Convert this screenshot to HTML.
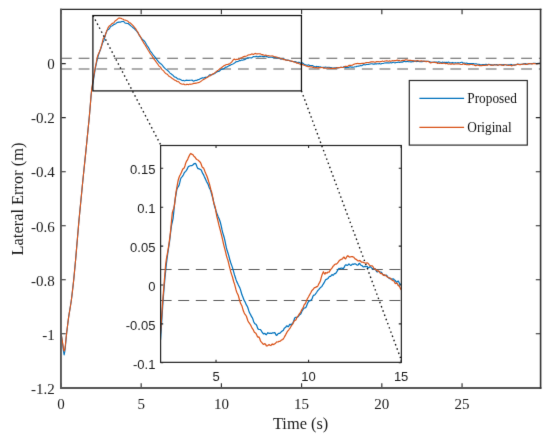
<!DOCTYPE html>
<html><head><meta charset="utf-8"><title>Lateral Error</title>
<style>html,body{margin:0;padding:0;background:#fff;}svg{display:block;}</style>
</head><body>
<svg width="550" height="436" viewBox="0 0 550 436"><defs><clipPath id="cm"><rect x="60.95" y="9.4" width="479.65000000000003" height="378.55"/></clipPath><clipPath id="ci"><rect x="160.6" y="145.5" width="240.75000000000003" height="216.85000000000002"/></clipPath><filter id="bl" x="0" y="0" width="550" height="436" filterUnits="userSpaceOnUse" color-interpolation-filters="sRGB"><feConvolveMatrix order="3" kernelMatrix="0.0064 0.0672 0.0064 0.0672 0.7056 0.0672 0.0064 0.0672 0.0064" divisor="1" edgeMode="duplicate" preserveAlpha="true"/></filter></defs><g filter="url(#bl)"><rect x="0" y="0" width="550" height="436" fill="#fff"/><line x1="60.95" y1="58.20" x2="540.6" y2="58.20" stroke="#5c5c5c" stroke-width="1.05" stroke-dasharray="10.8 6.9"/><line x1="60.95" y1="69.00" x2="540.6" y2="69.00" stroke="#5c5c5c" stroke-width="1.05" stroke-dasharray="10.8 6.9"/><g clip-path="url(#cm)" fill="none" stroke-width="1.15" stroke-linejoin="round"><path d="M61.20,333.90 L61.57,336.50 L62.21,341.00 L62.86,345.91 L63.50,351.16 L64.14,354.96 L64.78,351.64 L65.42,346.43 L66.06,339.03 L66.71,332.35 L67.35,327.22 L67.99,322.08 L68.63,317.18 L69.27,313.20 L69.92,309.22 L70.56,305.23 L71.20,301.25 L71.84,296.22 L72.48,290.72 L73.12,285.22 L73.77,279.21 L74.41,272.49 L75.05,265.77 L75.69,258.92 L76.33,251.37 L76.97,243.82 L77.62,236.27 L78.26,228.72 L78.90,221.17 L79.54,214.44 L80.18,207.86 L80.83,201.27 L81.47,194.69 L82.11,188.11 L82.75,181.53 L83.39,175.23 L84.03,169.02 L84.68,162.81 L85.32,156.60 L85.96,150.39 L86.60,143.98 L87.24,137.54 L87.89,131.15 L88.53,124.79 L89.17,118.34 L89.81,111.17 L90.45,103.31 L91.09,95.52 L91.74,89.46 L92.38,86.04 L93.02,82.73 L93.66,78.97 L94.30,74.86 L94.95,70.66 L95.59,67.23 L96.23,64.15 L96.87,61.13 L97.51,58.64 L98.15,56.17 L98.80,54.07 L99.44,52.24 L100.08,50.58 L100.72,48.96 L101.36,46.77 L102.01,44.60 L102.65,42.72 L103.29,41.67 L103.93,40.44 L104.57,38.04 L105.21,35.31 L105.86,33.55 L106.50,32.03 L107.14,30.45 L107.78,29.82 L108.42,29.42 L109.06,29.03 L109.71,28.07 L110.35,26.92 L110.99,26.31 L111.63,26.05 L112.27,25.76 L112.92,25.30 L113.56,24.68 L114.20,24.36 L114.84,24.14 L115.48,23.77 L116.12,23.38 L116.77,22.77 L117.41,22.41 L118.05,22.35 L118.69,22.18 L119.33,22.16 L119.98,22.17 L120.62,22.07 L121.26,21.82 L121.90,21.56 L122.54,21.45 L123.18,21.34 L123.83,21.65 L124.47,22.34 L125.11,22.98 L125.75,23.23 L126.39,23.22 L127.04,23.38 L127.68,23.49 L128.32,23.67 L128.96,24.26 L129.60,24.86 L130.24,25.24 L130.89,25.85 L131.53,26.40 L132.17,26.92 L132.81,27.55 L133.45,28.06 L134.10,28.45 L134.74,29.18 L135.38,29.91 L136.02,30.31 L136.66,31.03 L137.30,32.05 L137.95,32.93 L138.59,33.68 L139.23,35.02 L139.87,36.32 L140.51,37.03 L141.16,37.91 L141.80,38.63 L142.44,39.31 L143.08,40.01 L143.72,40.51 L144.36,41.20 L145.01,41.99 L145.65,43.05 L146.29,44.32 L146.93,45.40 L147.57,46.25 L148.21,47.09 L148.86,48.22 L149.50,49.48 L150.14,50.71 L150.78,51.64 L151.42,52.39 L152.07,53.23 L152.71,54.22 L153.35,55.20 L153.99,55.98 L154.63,56.68 L155.27,57.39 L155.92,58.24 L156.56,59.18 L157.20,60.13 L157.84,60.93 L158.48,61.74 L159.13,62.43 L159.77,62.95 L160.41,63.53 L161.05,64.03 L161.69,64.52 L162.33,65.21 L162.98,66.12 L163.62,67.02 L164.26,67.62 L164.90,68.28 L165.54,68.97 L166.19,69.35 L166.83,69.92 L167.47,70.53 L168.11,70.93 L168.75,71.51 L169.39,72.34 L170.04,73.10 L170.68,73.56 L171.32,74.06 L171.96,74.62 L172.60,74.94 L173.25,75.61 L173.89,76.44 L174.53,76.87 L175.17,77.13 L175.81,77.25 L176.45,77.69 L177.10,78.48 L177.74,78.91 L178.38,78.99 L179.02,79.06 L179.66,79.08 L180.30,79.42 L180.95,79.86 L181.59,80.22 L182.23,80.57 L182.87,80.47 L183.51,80.40 L184.16,80.75 L184.80,80.89 L185.44,80.46 L186.08,80.14 L186.72,80.36 L187.36,80.43 L188.01,80.28 L188.65,80.44 L189.29,80.41 L189.93,80.24 L190.57,80.23 L191.22,80.22 L191.86,80.12 L192.50,80.38 L193.14,80.96 L193.78,81.13 L194.42,80.77 L195.07,80.49 L195.71,80.40 L196.35,80.38 L196.99,80.18 L197.63,79.89 L198.28,79.63 L198.92,79.52 L199.56,79.29 L200.20,78.70 L200.84,78.44 L201.48,78.36 L202.13,77.88 L202.77,77.76 L203.41,78.08 L204.05,78.03 L204.69,77.50 L205.34,77.20 L205.98,77.41 L206.62,77.35 L207.26,76.95 L207.90,76.65 L208.54,76.13 L209.19,75.22 L209.83,74.81 L210.47,74.90 L211.11,74.83 L211.75,74.69 L212.39,74.59 L213.04,74.19 L213.68,73.87 L214.32,73.77 L214.96,73.37 L215.60,72.73 L216.25,72.29 L216.89,71.91 L217.53,71.60 L218.17,71.55 L218.81,71.47 L219.45,71.09 L220.10,70.38 L220.74,69.75 L221.38,69.36 L222.02,69.15 L222.66,69.09 L223.31,68.89 L223.95,68.66 L224.59,68.22 L225.23,67.43 L225.87,67.11 L226.51,67.14 L227.16,66.85 L227.80,66.47 L228.44,66.12 L229.08,65.68 L229.72,65.40 L230.37,65.13 L231.01,64.79 L231.65,64.51 L232.29,64.32 L232.93,64.06 L233.57,63.62 L234.22,63.19 L234.86,62.80 L235.50,62.30 L236.14,61.80 L236.78,61.64 L237.43,61.56 L238.07,61.35 L238.71,61.07 L239.35,60.65 L239.99,60.57 L240.63,60.58 L241.28,60.13 L241.92,60.02 L242.56,60.26 L243.20,59.97 L243.84,59.65 L244.48,59.66 L245.13,59.46 L245.77,59.05 L246.41,58.62 L247.05,58.14 L247.69,57.85 L248.34,57.89 L248.98,57.82 L249.62,57.70 L250.26,57.74 L250.90,57.90 L251.54,57.91 L252.19,57.50 L252.83,56.93 L253.47,56.63 L254.11,56.65 L254.75,56.80 L255.40,56.74 L256.04,56.37 L256.68,56.33 L257.32,56.63 L257.96,56.78 L258.60,56.65 L259.25,56.35 L259.89,56.32 L260.53,56.40 L261.17,56.28 L261.81,56.24 L262.46,56.41 L263.10,56.58 L263.74,56.67 L264.38,56.64 L265.02,56.18 L265.66,56.09 L266.31,56.59 L266.95,56.76 L267.59,56.83 L268.23,57.13 L268.87,57.33 L269.52,57.27 L270.16,57.14 L270.80,57.21 L271.44,57.21 L272.08,57.15 L272.72,57.43 L273.37,57.67 L274.01,57.44 L274.65,57.22 L275.29,57.37 L275.93,57.66 L276.57,57.90 L277.22,57.88 L277.86,57.87 L278.50,57.92 L279.14,57.99 L279.78,58.44 L280.43,59.00 L281.07,59.08 L281.71,58.87 L282.35,58.89 L282.99,59.02 L283.63,59.09 L284.28,59.13 L284.92,59.42 L285.56,59.88 L286.20,59.98 L286.84,60.12 L287.49,60.35 L288.13,60.22 L288.77,60.16 L289.41,60.46 L290.05,60.79 L290.69,61.07 L291.34,61.31 L291.98,61.41 L292.62,61.47 L293.26,61.54 L293.90,61.59 L294.55,61.50 L295.19,61.57 L295.83,61.83 L296.47,62.00 L297.11,62.45 L297.75,62.65 L298.40,62.36 L299.04,62.21 L299.68,62.63 L300.32,63.15 L300.96,63.34 L301.61,63.37 L302.25,62.80 L302.89,63.24 L303.53,63.74 L304.17,64.24 L304.81,64.60 L305.46,64.81 L306.10,64.90 L306.74,65.21 L307.38,65.31 L308.02,65.02 L308.66,64.90 L309.31,65.16 L309.95,65.48 L310.59,65.58 L311.23,65.53 L311.87,65.49 L312.52,65.55 L313.16,65.93 L313.80,66.37 L314.44,66.57 L315.08,66.74 L315.72,66.70 L316.37,66.40 L317.01,66.50 L317.65,66.69 L318.29,66.51 L318.93,66.69 L319.58,66.99 L320.22,66.94 L320.86,67.02 L321.50,67.36 L322.14,67.52 L322.78,67.28 L323.43,67.37 L324.07,67.62 L324.71,67.30 L325.35,67.10 L325.99,67.26 L326.64,67.30 L327.28,67.38 L327.92,67.49 L328.56,67.30 L329.20,67.21 L329.84,67.47 L330.49,67.49 L331.13,67.51 L331.77,67.73 L332.41,67.93 L333.05,68.12 L333.70,68.10 L334.34,67.93 L334.98,67.98 L335.62,67.83 L336.26,67.49 L336.90,67.70 L337.55,67.90 L338.19,67.87 L338.83,67.73 L339.47,67.55 L340.11,67.51 L340.75,67.31 L341.40,67.33 L342.04,67.49 L342.68,67.40 L343.32,67.14 L343.96,66.88 L344.61,67.14 L345.25,67.57 L345.89,67.68 L346.53,67.52 L347.17,67.32 L347.81,67.33 L348.46,67.34 L349.10,67.19 L349.74,66.87 L350.38,66.79 L351.02,67.10 L351.67,67.19 L352.31,67.19 L352.95,67.30 L353.59,67.27 L354.23,67.02 L354.87,66.77 L355.52,66.72 L356.16,66.64 L356.80,66.37 L357.44,66.25 L358.08,66.19 L358.73,66.12 L359.37,66.03 L360.01,65.77 L360.65,65.62 L361.29,65.76 L361.93,65.61 L362.58,65.18 L363.22,64.79 L363.86,64.60 L364.50,64.75 L365.14,64.82 L365.79,64.73 L366.43,64.55 L367.07,64.44 L367.71,64.55 L368.35,64.47 L368.99,64.28 L369.64,64.15 L370.28,63.94 L370.92,63.76 L371.56,63.73 L372.20,63.84 L372.84,64.03 L373.49,64.17 L374.13,64.11 L374.77,63.89 L375.41,63.70 L376.05,63.84 L376.70,63.89 L377.34,63.72 L377.98,63.78 L378.62,63.82 L379.26,63.60 L379.90,63.65 L380.55,63.96 L381.19,63.82 L381.83,63.46 L382.47,63.45 L383.11,63.52 L383.76,63.28 L384.40,63.01 L385.04,63.01 L385.68,62.90 L386.32,62.83 L386.96,62.92 L387.61,62.90 L388.25,62.94 L388.89,63.05 L389.53,62.92 L390.17,62.67 L390.82,62.71 L391.46,62.90 L392.10,62.72 L392.74,62.30 L393.38,62.28 L394.02,62.58 L394.67,62.82 L395.31,62.84 L395.95,62.54 L396.59,62.47 L397.23,62.50 L397.88,62.15 L398.52,62.09 L399.16,62.36 L399.80,62.38 L400.44,62.21 L401.08,62.06 L401.73,62.16 L402.37,62.14 L403.01,61.77 L403.65,61.57 L404.29,61.47 L404.93,61.49 L405.58,61.68 L406.22,61.65 L406.86,61.48 L407.50,61.49 L408.14,61.68 L408.79,61.76 L409.43,61.72 L410.07,61.76 L410.71,61.90 L411.35,61.92 L411.99,61.74 L412.64,61.67 L413.28,61.61 L413.92,61.42 L414.56,61.14 L415.20,60.96 L415.85,61.27 L416.49,61.58 L417.13,61.50 L417.77,61.38 L418.41,61.36 L419.05,61.46 L419.70,61.56 L420.34,61.55 L420.98,61.67 L421.62,61.81 L422.26,61.66 L422.91,61.32 L423.55,61.18 L424.19,61.37 L424.83,61.45 L425.47,61.34 L426.11,61.23 L426.76,61.19 L427.40,61.41 L428.04,61.56 L428.68,61.41 L429.32,61.50 L429.97,61.86 L430.61,62.17 L431.25,62.35 L431.89,62.34 L432.53,62.26 L433.17,62.22 L433.82,62.19 L434.46,62.16 L435.10,62.08 L435.74,62.00 L436.38,62.08 L437.02,62.34 L437.67,62.32 L438.31,61.91 L438.95,61.83 L439.59,62.08 L440.23,62.28 L440.88,62.60 L441.52,62.70 L442.16,62.32 L442.80,62.13 L443.44,62.45 L444.08,62.44 L444.73,62.32 L445.37,62.53 L446.01,62.42 L446.65,62.30 L447.29,62.44 L447.94,62.22 L448.58,62.10 L449.22,62.53 L449.86,62.75 L450.50,62.72 L451.14,62.89 L451.79,62.79 L452.43,62.45 L453.07,62.64 L453.71,63.06 L454.35,62.96 L455.00,62.67 L455.64,62.76 L456.28,63.00 L456.92,62.90 L457.56,62.71 L458.20,62.67 L458.85,62.89 L459.49,62.98 L460.13,62.67 L460.77,62.50 L461.41,62.27 L462.06,62.24 L462.70,62.85 L463.34,63.18 L463.98,63.02 L464.62,63.08 L465.26,63.32 L465.91,63.24 L466.55,63.02 L467.19,63.29 L467.83,63.62 L468.47,63.63 L469.11,63.59 L469.76,63.50 L470.40,63.58 L471.04,63.64 L471.68,63.54 L472.32,63.56 L472.97,63.46 L473.61,63.46 L474.25,63.83 L474.89,64.04 L475.53,63.93 L476.17,63.89 L476.82,64.06 L477.46,64.22 L478.10,64.29 L478.74,64.29 L479.38,64.41 L480.03,64.70 L480.67,64.75 L481.31,64.70 L481.95,64.71 L482.59,64.59 L483.23,64.49 L483.88,64.61 L484.52,64.79 L485.16,64.64 L485.80,64.26 L486.44,64.39 L487.09,64.84 L487.73,64.74 L488.37,64.25 L489.01,64.21 L489.65,64.43 L490.29,64.64 L490.94,64.92 L491.58,64.83 L492.22,64.82 L492.86,65.16 L493.50,65.06 L494.15,64.63 L494.79,64.59 L495.43,64.80 L496.07,64.68 L496.71,64.54 L497.35,64.89 L498.00,65.14 L498.64,65.03 L499.28,64.82 L499.92,64.64 L500.56,64.80 L501.20,64.79 L501.85,64.56 L502.49,64.72 L503.13,64.79 L503.77,64.64 L504.41,64.65 L505.06,64.70 L505.70,64.73 L506.34,64.93 L506.98,65.12 L507.62,65.01 L508.26,64.88 L508.91,64.83 L509.55,64.83 L510.19,64.75 L510.83,64.42 L511.47,64.53 L512.12,65.00 L512.76,64.99 L513.40,65.09 L514.04,65.20 L514.68,64.87 L515.32,64.72 L515.97,64.76 L516.61,64.59 L517.25,64.23 L517.89,64.09 L518.53,64.19 L519.18,64.24 L519.82,64.29 L520.46,64.36 L521.10,64.40 L521.74,64.37 L522.38,64.30 L523.03,64.08 L523.67,63.90 L524.31,63.83 L524.95,63.52 L525.59,63.55 L526.24,64.06 L526.88,64.11 L527.52,63.96 L528.16,64.02 L528.80,63.99 L529.44,63.78 L530.09,63.69 L530.73,63.70 L531.37,63.64 L532.01,63.78 L532.65,63.76 L533.29,63.36 L533.94,63.30 L534.58,63.38 L535.22,63.31 L535.86,63.52 L536.50,63.62 L537.15,63.44 L537.79,63.51 L538.43,63.46 L539.07,63.15 L539.71,63.02" stroke="#0072BD"/><path d="M61.20,333.90 L61.57,336.22 L62.21,340.22 L62.86,344.42 L63.50,348.80 L64.14,351.00 L64.78,349.82 L65.42,344.77 L66.06,338.36 L66.71,332.35 L67.35,327.22 L67.99,322.08 L68.63,317.18 L69.27,313.20 L69.92,309.22 L70.56,305.23 L71.20,301.25 L71.84,296.22 L72.48,290.72 L73.12,285.22 L73.77,279.21 L74.41,272.49 L75.05,265.77 L75.69,258.92 L76.33,251.37 L76.97,243.82 L77.62,236.27 L78.26,228.72 L78.90,221.17 L79.54,214.44 L80.18,207.86 L80.83,201.27 L81.47,194.69 L82.11,188.11 L82.75,181.53 L83.39,175.23 L84.03,169.02 L84.68,162.81 L85.32,156.60 L85.96,150.39 L86.60,143.98 L87.24,137.58 L87.89,131.17 L88.53,124.76 L89.17,118.33 L89.81,111.20 L90.45,103.39 L91.09,95.56 L91.74,88.92 L92.38,84.51 L93.02,80.50 L93.66,76.82 L94.30,73.00 L94.95,69.20 L95.59,65.94 L96.23,62.76 L96.87,59.47 L97.51,56.41 L98.15,54.55 L98.80,53.17 L99.44,51.71 L100.08,50.11 L100.72,48.29 L101.36,46.27 L102.01,43.79 L102.65,40.96 L103.29,38.45 L103.93,37.60 L104.57,36.92 L105.21,35.68 L105.86,33.29 L106.50,31.36 L107.14,29.87 L107.78,28.38 L108.42,27.12 L109.06,26.25 L109.71,25.62 L110.35,25.21 L110.99,24.64 L111.63,24.01 L112.27,23.41 L112.92,23.13 L113.56,22.95 L114.20,22.28 L114.84,21.29 L115.48,20.69 L116.12,20.33 L116.77,19.79 L117.41,19.19 L118.05,18.64 L118.69,18.16 L119.33,17.93 L119.98,18.18 L120.62,18.23 L121.26,18.42 L121.90,18.83 L122.54,19.08 L123.18,19.34 L123.83,19.79 L124.47,20.00 L125.11,20.12 L125.75,20.26 L126.39,20.56 L127.04,20.80 L127.68,21.06 L128.32,21.65 L128.96,22.47 L129.60,22.85 L130.24,22.91 L130.89,23.45 L131.53,24.15 L132.17,24.79 L132.81,25.40 L133.45,26.02 L134.10,26.80 L134.74,27.66 L135.38,28.41 L136.02,29.43 L136.66,30.49 L137.30,31.28 L137.95,32.29 L138.59,33.94 L139.23,35.29 L139.87,35.79 L140.51,36.64 L141.16,38.33 L141.80,39.71 L142.44,40.68 L143.08,41.80 L143.72,42.91 L144.36,43.81 L145.01,44.77 L145.65,45.85 L146.29,46.91 L146.93,48.05 L147.57,49.19 L148.21,50.24 L148.86,51.24 L149.50,52.25 L150.14,53.39 L150.78,54.28 L151.42,54.95 L152.07,56.00 L152.71,57.10 L153.35,58.09 L153.99,59.08 L154.63,59.92 L155.27,60.65 L155.92,61.60 L156.56,62.55 L157.20,63.28 L157.84,64.25 L158.48,65.31 L159.13,66.12 L159.77,66.61 L160.41,67.17 L161.05,68.11 L161.69,69.07 L162.33,69.90 L162.98,70.35 L163.62,70.86 L164.26,71.80 L164.90,72.67 L165.54,73.27 L166.19,73.69 L166.83,74.03 L167.47,74.46 L168.11,75.25 L168.75,76.02 L169.39,76.49 L170.04,76.84 L170.68,77.23 L171.32,77.64 L171.96,78.21 L172.60,78.72 L173.25,79.00 L173.89,79.55 L174.53,80.09 L175.17,80.20 L175.81,80.44 L176.45,80.98 L177.10,81.55 L177.74,81.75 L178.38,81.64 L179.02,82.17 L179.66,83.01 L180.30,83.36 L180.95,83.63 L181.59,84.00 L182.23,84.20 L182.87,84.14 L183.51,83.95 L184.16,84.23 L184.80,84.73 L185.44,84.76 L186.08,84.60 L186.72,84.37 L187.36,84.32 L188.01,84.56 L188.65,84.62 L189.29,84.27 L189.93,84.09 L190.57,84.32 L191.22,84.23 L191.86,84.03 L192.50,83.91 L193.14,83.63 L193.78,83.32 L194.42,83.40 L195.07,83.36 L195.71,83.16 L196.35,83.16 L196.99,83.03 L197.63,82.81 L198.28,82.65 L198.92,82.53 L199.56,82.26 L200.20,81.84 L200.84,81.37 L201.48,80.91 L202.13,80.40 L202.77,79.90 L203.41,79.55 L204.05,79.24 L204.69,78.88 L205.34,78.54 L205.98,78.10 L206.62,77.62 L207.26,77.36 L207.90,76.97 L208.54,76.36 L209.19,75.95 L209.83,75.89 L210.47,75.67 L211.11,75.01 L211.75,74.61 L212.39,74.34 L213.04,73.81 L213.68,73.51 L214.32,73.20 L214.96,72.62 L215.60,72.11 L216.25,71.78 L216.89,71.25 L217.53,70.49 L218.17,70.20 L218.81,69.89 L219.45,69.14 L220.10,68.55 L220.74,68.11 L221.38,67.68 L222.02,67.19 L222.66,66.73 L223.31,66.29 L223.95,65.75 L224.59,65.40 L225.23,65.19 L225.87,64.82 L226.51,64.54 L227.16,64.50 L227.80,64.35 L228.44,64.17 L229.08,64.13 L229.72,63.67 L230.37,63.10 L231.01,62.69 L231.65,62.13 L232.29,61.14 L232.93,60.24 L233.57,59.57 L234.22,58.98 L234.86,59.48 L235.50,59.83 L236.14,59.30 L236.78,59.39 L237.43,59.51 L238.07,59.15 L238.71,59.13 L239.35,59.11 L239.99,58.59 L240.63,58.13 L241.28,57.94 L241.92,57.55 L242.56,57.11 L243.20,56.88 L243.84,56.56 L244.48,56.34 L245.13,56.38 L245.77,56.27 L246.41,56.00 L247.05,55.67 L247.69,55.28 L248.34,55.03 L248.98,54.86 L249.62,54.71 L250.26,54.64 L250.90,54.48 L251.54,53.99 L252.19,53.90 L252.83,54.38 L253.47,54.51 L254.11,54.04 L254.75,53.63 L255.40,53.42 L256.04,53.69 L256.68,53.89 L257.32,53.79 L257.96,53.81 L258.60,53.76 L259.25,53.73 L259.89,53.85 L260.53,53.94 L261.17,54.29 L261.81,54.58 L262.46,54.65 L263.10,54.84 L263.74,55.08 L264.38,55.26 L265.02,55.26 L265.66,55.07 L266.31,55.21 L266.95,55.57 L267.59,55.70 L268.23,55.66 L268.87,55.71 L269.52,55.88 L270.16,55.95 L270.80,55.99 L271.44,56.00 L272.08,55.89 L272.72,55.97 L273.37,56.28 L274.01,56.62 L274.65,56.89 L275.29,56.91 L275.93,56.96 L276.57,56.97 L277.22,57.23 L277.86,57.77 L278.50,57.97 L279.14,58.04 L279.78,58.25 L280.43,58.59 L281.07,58.76 L281.71,58.71 L282.35,58.82 L282.99,59.16 L283.63,59.56 L284.28,59.63 L284.92,59.59 L285.56,59.95 L286.20,60.28 L286.84,60.17 L287.49,60.10 L288.13,60.30 L288.77,60.50 L289.41,60.70 L290.05,60.93 L290.69,61.05 L291.34,61.16 L291.98,61.18 L292.62,61.34 L293.26,61.74 L293.90,61.99 L294.55,62.06 L295.19,62.13 L295.83,62.55 L296.47,63.06 L297.11,63.11 L297.75,62.93 L298.40,63.15 L299.04,63.79 L299.68,63.97 L300.32,64.12 L300.96,64.79 L301.61,65.20 L302.25,64.27 L302.89,64.50 L303.53,64.98 L304.17,65.28 L304.81,65.44 L305.46,65.68 L306.10,65.90 L306.74,66.17 L307.38,66.51 L308.02,66.69 L308.66,66.63 L309.31,66.56 L309.95,66.75 L310.59,66.99 L311.23,66.90 L311.87,66.90 L312.52,67.15 L313.16,67.32 L313.80,67.54 L314.44,67.71 L315.08,67.56 L315.72,67.55 L316.37,67.67 L317.01,67.69 L317.65,67.88 L318.29,67.93 L318.93,67.62 L319.58,67.51 L320.22,67.77 L320.86,67.68 L321.50,67.47 L322.14,67.49 L322.78,67.61 L323.43,68.09 L324.07,68.29 L324.71,68.08 L325.35,68.13 L325.99,68.29 L326.64,68.21 L327.28,67.94 L327.92,67.97 L328.56,68.19 L329.20,68.16 L329.84,68.22 L330.49,68.34 L331.13,68.38 L331.77,68.35 L332.41,68.27 L333.05,68.34 L333.70,68.39 L334.34,68.37 L334.98,68.48 L335.62,68.40 L336.26,68.05 L336.90,67.90 L337.55,67.83 L338.19,67.60 L338.83,67.59 L339.47,67.72 L340.11,67.59 L340.75,67.32 L341.40,67.30 L342.04,67.48 L342.68,67.45 L343.32,67.27 L343.96,66.98 L344.61,66.54 L345.25,66.28 L345.89,66.31 L346.53,66.44 L347.17,66.46 L347.81,66.18 L348.46,65.67 L349.10,65.28 L349.74,65.32 L350.38,65.44 L351.02,65.36 L351.67,65.26 L352.31,65.13 L352.95,64.84 L353.59,64.42 L354.23,64.11 L354.87,64.04 L355.52,63.79 L356.16,63.61 L356.80,63.62 L357.44,63.44 L358.08,63.44 L358.73,63.59 L359.37,63.59 L360.01,63.59 L360.65,63.66 L361.29,63.57 L361.93,63.37 L362.58,63.31 L363.22,63.35 L363.86,63.35 L364.50,63.29 L365.14,62.96 L365.79,62.67 L366.43,62.61 L367.07,62.53 L367.71,62.53 L368.35,62.64 L368.99,62.56 L369.64,62.27 L370.28,62.11 L370.92,61.92 L371.56,61.77 L372.20,61.91 L372.84,61.87 L373.49,61.79 L374.13,62.04 L374.77,62.28 L375.41,62.23 L376.05,61.87 L376.70,61.59 L377.34,61.61 L377.98,61.71 L378.62,61.66 L379.26,61.72 L379.90,61.84 L380.55,61.58 L381.19,61.45 L381.83,61.32 L382.47,61.05 L383.11,61.28 L383.76,61.49 L384.40,61.22 L385.04,60.99 L385.68,61.00 L386.32,60.90 L386.96,60.80 L387.61,61.02 L388.25,61.28 L388.89,61.08 L389.53,60.86 L390.17,61.15 L390.82,61.25 L391.46,60.95 L392.10,60.72 L392.74,60.66 L393.38,60.76 L394.02,60.83 L394.67,60.62 L395.31,60.67 L395.95,60.78 L396.59,60.28 L397.23,60.09 L397.88,60.47 L398.52,60.44 L399.16,60.33 L399.80,60.75 L400.44,61.01 L401.08,60.82 L401.73,60.58 L402.37,60.41 L403.01,60.21 L403.65,60.31 L404.29,60.46 L404.93,60.13 L405.58,59.78 L406.22,59.80 L406.86,60.00 L407.50,60.12 L408.14,60.25 L408.79,60.41 L409.43,60.40 L410.07,60.32 L410.71,60.28 L411.35,60.48 L411.99,60.77 L412.64,60.62 L413.28,60.57 L413.92,60.89 L414.56,61.06 L415.20,61.14 L415.85,61.10 L416.49,60.71 L417.13,60.49 L417.77,60.64 L418.41,60.85 L419.05,60.97 L419.70,61.06 L420.34,61.10 L420.98,60.90 L421.62,60.77 L422.26,60.94 L422.91,61.21 L423.55,61.29 L424.19,61.12 L424.83,60.97 L425.47,61.38 L426.11,61.81 L426.76,61.53 L427.40,61.24 L428.04,61.41 L428.68,61.67 L429.32,62.10 L429.97,62.64 L430.61,62.85 L431.25,62.66 L431.89,62.40 L432.53,62.22 L433.17,62.25 L433.82,62.34 L434.46,62.35 L435.10,62.55 L435.74,62.64 L436.38,62.60 L437.02,63.00 L437.67,63.40 L438.31,63.19 L438.95,63.16 L439.59,63.44 L440.23,63.27 L440.88,63.17 L441.52,63.43 L442.16,63.51 L442.80,63.39 L443.44,63.20 L444.08,63.00 L444.73,63.24 L445.37,63.69 L446.01,63.65 L446.65,63.45 L447.29,63.50 L447.94,63.96 L448.58,64.06 L449.22,63.81 L449.86,63.90 L450.50,64.09 L451.14,64.16 L451.79,63.87 L452.43,63.64 L453.07,63.97 L453.71,64.20 L454.35,64.22 L455.00,64.02 L455.64,63.87 L456.28,63.95 L456.92,63.90 L457.56,63.87 L458.20,63.83 L458.85,63.74 L459.49,63.93 L460.13,64.29 L460.77,64.51 L461.41,64.48 L462.06,64.35 L462.70,64.11 L463.34,63.71 L463.98,63.81 L464.62,64.32 L465.26,64.37 L465.91,64.36 L466.55,64.74 L467.19,64.70 L467.83,64.50 L468.47,64.70 L469.11,64.81 L469.76,64.67 L470.40,64.54 L471.04,64.54 L471.68,64.55 L472.32,64.59 L472.97,64.63 L473.61,64.71 L474.25,65.07 L474.89,65.47 L475.53,65.64 L476.17,65.59 L476.82,65.28 L477.46,65.01 L478.10,65.15 L478.74,65.48 L479.38,65.64 L480.03,65.62 L480.67,65.54 L481.31,65.58 L481.95,65.62 L482.59,65.32 L483.23,65.20 L483.88,65.42 L484.52,65.48 L485.16,65.38 L485.80,65.15 L486.44,65.23 L487.09,65.37 L487.73,64.93 L488.37,64.57 L489.01,64.64 L489.65,64.73 L490.29,65.07 L490.94,65.34 L491.58,65.13 L492.22,65.16 L492.86,65.24 L493.50,64.96 L494.15,64.92 L494.79,64.99 L495.43,64.97 L496.07,65.02 L496.71,65.05 L497.35,65.07 L498.00,65.09 L498.64,65.02 L499.28,64.80 L499.92,64.68 L500.56,64.78 L501.20,65.07 L501.85,65.09 L502.49,65.15 L503.13,65.54 L503.77,65.36 L504.41,64.85 L505.06,64.70 L505.70,64.78 L506.34,64.88 L506.98,64.96 L507.62,65.17 L508.26,65.44 L508.91,65.45 L509.55,65.26 L510.19,65.15 L510.83,65.43 L511.47,65.84 L512.12,65.68 L512.76,65.17 L513.40,64.95 L514.04,65.05 L514.68,65.28 L515.32,65.13 L515.97,64.71 L516.61,64.59 L517.25,64.33 L517.89,64.18 L518.53,64.48 L519.18,64.65 L519.82,64.69 L520.46,64.69 L521.10,64.53 L521.74,64.36 L522.38,64.21 L523.03,63.97 L523.67,63.94 L524.31,64.09 L524.95,64.15 L525.59,64.32 L526.24,64.44 L526.88,64.38 L527.52,64.19 L528.16,63.81 L528.80,63.55 L529.44,63.57 L530.09,63.70 L530.73,63.80 L531.37,63.94 L532.01,63.93 L532.65,63.65 L533.29,63.61 L533.94,63.68 L534.58,63.66 L535.22,63.80 L535.86,63.78 L536.50,63.72 L537.15,63.81 L537.79,63.72 L538.43,63.44 L539.07,63.27 L539.71,63.31" stroke="#D95319"/></g><path d="M60.93,387.95V383.15M60.93,9.4V14.20M141.16,387.95V383.15M141.16,9.4V14.20M221.38,387.95V383.15M221.38,9.4V14.20M301.61,387.95V383.15M301.61,9.4V14.20M381.83,387.95V383.15M381.83,9.4V14.20M462.06,387.95V383.15M462.06,9.4V14.20M60.95,63.60H65.75M540.6,63.60H535.80M60.95,117.64H65.75M540.6,117.64H535.80M60.95,171.68H65.75M540.6,171.68H535.80M60.95,225.72H65.75M540.6,225.72H535.80M60.95,279.76H65.75M540.6,279.76H535.80M60.95,333.80H65.75M540.6,333.80H535.80M60.95,387.84H65.75M540.6,387.84H535.80" stroke="#262626" stroke-width="1.1" fill="none"/><path d="M60.050000000000004,9.4H541.4" stroke="#262626" stroke-width="1.35" fill="none"/><path d="M60.95,8.8V388.84999999999997" stroke="#555" stroke-width="1.9" fill="none"/><path d="M60.050000000000004,387.95H541.4" stroke="#555" stroke-width="1.9" fill="none"/><path d="M540.6,8.8V388.84999999999997" stroke="#333" stroke-width="1.6" fill="none"/><g font-family="'Liberation Serif', 'Times New Roman', serif" font-size="15" fill="#1a1a1a"><text x="60.93" y="408.6" text-anchor="middle">0</text><text x="141.16" y="408.6" text-anchor="middle">5</text><text x="221.38" y="408.6" text-anchor="middle">10</text><text x="301.61" y="408.6" text-anchor="middle">15</text><text x="381.83" y="408.6" text-anchor="middle">20</text><text x="462.06" y="408.6" text-anchor="middle">25</text><text x="54.8" y="69.40" text-anchor="end">0</text><text x="54.8" y="123.44" text-anchor="end">-0.2</text><text x="54.8" y="177.48" text-anchor="end">-0.4</text><text x="54.8" y="231.52" text-anchor="end">-0.6</text><text x="54.8" y="285.56" text-anchor="end">-0.8</text><text x="54.8" y="339.60" text-anchor="end">-1</text><text x="54.8" y="393.64" text-anchor="end">-1.2</text></g><g font-family="'Liberation Serif', 'Times New Roman', serif" font-size="16.4" fill="#1a1a1a"><text x="300.6" y="428.7" text-anchor="middle">Time (s)</text><text transform="translate(23.4,199.0) rotate(-90)" text-anchor="middle">Lateral Error (m)</text></g><rect x="92.90" y="15.55" width="208.55" height="75.35" fill="none" stroke="#111" stroke-width="1.25"/><rect x="409.3" y="80.5" width="118" height="64.6" fill="#fff" stroke="#2a2a2a" stroke-width="1.2"/><line x1="419.4" y1="98.3" x2="464.1" y2="98.3" stroke="#0072BD" stroke-width="1.15"/><line x1="419.4" y1="127.4" x2="464.1" y2="127.4" stroke="#D95319" stroke-width="1.15"/><g font-family="'Liberation Serif', 'Times New Roman', serif" font-size="13.3" fill="#111"><text transform="translate(467.3,102.6) scale(1,1.07)">Proposed</text><text transform="translate(467.3,132.0) scale(1,1.07)">Original</text></g><rect x="160.6" y="145.5" width="240.75" height="216.85" fill="#fff"/><line x1="160.6" y1="269.44" x2="401.35" y2="269.44" stroke="#5a5a5a" stroke-width="1.1" stroke-dasharray="11 6.6"/><line x1="160.6" y1="300.56" x2="401.35" y2="300.56" stroke="#5a5a5a" stroke-width="1.1" stroke-dasharray="11 6.6"/><g clip-path="url(#ci)" fill="none" stroke-width="1.25" stroke-linejoin="round"><path d="M160.50,340.08 L161.24,329.25 L161.98,317.42 L162.72,305.34 L163.46,295.45 L164.20,286.58 L164.94,277.90 L165.68,270.71 L166.42,263.62 L167.16,257.57 L167.90,252.30 L168.64,247.50 L169.38,242.84 L170.13,236.53 L170.87,230.29 L171.61,224.87 L172.35,221.85 L173.09,218.31 L173.83,211.42 L174.57,203.55 L175.31,198.47 L176.05,194.09 L176.79,189.55 L177.53,187.74 L178.27,186.60 L179.01,185.45 L179.75,182.69 L180.49,179.37 L181.23,177.63 L181.97,176.87 L182.71,176.04 L183.45,174.72 L184.19,172.95 L184.93,172.03 L185.67,171.38 L186.41,170.33 L187.15,169.18 L187.89,167.44 L188.64,166.40 L189.38,166.24 L190.12,165.75 L190.86,165.69 L191.60,165.72 L192.34,165.41 L193.08,164.70 L193.82,163.94 L194.56,163.63 L195.30,163.32 L196.04,164.21 L196.78,166.21 L197.52,168.03 L198.26,168.75 L199.00,168.73 L199.74,169.18 L200.48,169.52 L201.22,170.02 L201.96,171.74 L202.70,173.44 L203.44,174.54 L204.18,176.31 L204.92,177.89 L205.66,179.39 L206.40,181.19 L207.15,182.68 L207.89,183.78 L208.63,185.90 L209.37,188.01 L210.11,189.13 L210.85,191.21 L211.59,194.16 L212.33,196.70 L213.07,198.86 L213.81,202.70 L214.55,206.44 L215.29,208.50 L216.03,211.02 L216.77,213.12 L217.51,215.07 L218.25,217.07 L218.99,218.52 L219.73,220.50 L220.47,222.78 L221.21,225.83 L221.95,229.47 L222.69,232.61 L223.43,235.05 L224.17,237.46 L224.91,240.73 L225.66,244.34 L226.40,247.88 L227.14,250.56 L227.88,252.71 L228.62,255.14 L229.36,258.00 L230.10,260.82 L230.84,263.06 L231.58,265.09 L232.32,267.13 L233.06,269.57 L233.80,272.29 L234.54,275.01 L235.28,277.30 L236.02,279.65 L236.76,281.62 L237.50,283.12 L238.24,284.80 L238.98,286.24 L239.72,287.65 L240.46,289.62 L241.20,292.25 L241.94,294.85 L242.68,296.57 L243.42,298.49 L244.17,300.46 L244.91,301.56 L245.65,303.20 L246.39,304.95 L247.13,306.11 L247.87,307.79 L248.61,310.18 L249.35,312.34 L250.09,313.68 L250.83,315.13 L251.57,316.74 L252.31,317.65 L253.05,319.58 L253.79,321.98 L254.53,323.21 L255.27,323.95 L256.01,324.31 L256.75,325.56 L257.49,327.83 L258.23,329.09 L258.97,329.32 L259.71,329.50 L260.45,329.59 L261.19,330.55 L261.93,331.83 L262.68,332.86 L263.42,333.85 L264.16,333.58 L264.90,333.37 L265.64,334.38 L266.38,334.77 L267.12,333.54 L267.86,332.62 L268.60,333.26 L269.34,333.47 L270.08,333.04 L270.82,333.49 L271.56,333.40 L272.30,332.93 L273.04,332.88 L273.78,332.85 L274.52,332.56 L275.26,333.31 L276.00,335.00 L276.74,335.47 L277.48,334.43 L278.22,333.63 L278.96,333.36 L279.70,333.31 L280.44,332.74 L281.19,331.90 L281.93,331.15 L282.67,330.85 L283.41,330.17 L284.15,328.49 L284.89,327.73 L285.63,327.49 L286.37,326.13 L287.11,325.78 L287.85,326.70 L288.59,326.55 L289.33,325.01 L290.07,324.15 L290.81,324.77 L291.55,324.59 L292.29,323.44 L293.03,322.57 L293.77,321.09 L294.51,318.46 L295.25,317.29 L295.99,317.52 L296.73,317.33 L297.47,316.92 L298.21,316.64 L298.95,315.49 L299.70,314.57 L300.44,314.29 L301.18,313.13 L301.92,311.30 L302.66,310.03 L303.40,308.94 L304.14,308.03 L304.88,307.89 L305.62,307.67 L306.36,306.57 L307.10,304.54 L307.84,302.69 L308.58,301.58 L309.32,300.98 L310.06,300.80 L310.80,300.23 L311.54,299.57 L312.28,298.31 L313.02,296.04 L313.76,295.10 L314.50,295.18 L315.24,294.35 L315.98,293.27 L316.72,292.24 L317.46,290.99 L318.21,290.18 L318.95,289.40 L319.69,288.42 L320.43,287.61 L321.17,287.06 L321.91,286.33 L322.65,285.06 L323.39,283.83 L324.13,282.70 L324.87,281.26 L325.61,279.82 L326.35,279.36 L327.09,279.13 L327.83,278.53 L328.57,277.71 L329.31,276.50 L330.05,276.27 L330.79,276.31 L331.53,275.00 L332.27,274.68 L333.01,275.38 L333.75,274.55 L334.49,273.63 L335.23,273.64 L335.97,273.07 L336.72,271.91 L337.46,270.67 L338.20,269.29 L338.94,268.44 L339.68,268.56 L340.42,268.36 L341.16,268.01 L341.90,268.12 L342.64,268.58 L343.38,268.60 L344.12,267.44 L344.86,265.80 L345.60,264.93 L346.34,264.99 L347.08,265.41 L347.82,265.24 L348.56,264.19 L349.30,264.08 L350.04,264.94 L350.78,265.36 L351.52,264.99 L352.26,264.12 L353.00,264.05 L353.74,264.28 L354.48,263.94 L355.23,263.81 L355.97,264.30 L356.71,264.80 L357.45,265.06 L358.19,264.95 L358.93,263.62 L359.67,263.36 L360.41,264.82 L361.15,265.30 L361.89,265.51 L362.63,266.36 L363.37,266.94 L364.11,266.76 L364.85,266.40 L365.59,266.61 L366.33,266.61 L367.07,266.42 L367.81,267.24 L368.55,267.94 L369.29,267.27 L370.03,266.63 L370.77,267.06 L371.51,267.89 L372.25,268.59 L372.99,268.53 L373.74,268.51 L374.48,268.66 L375.22,268.84 L375.96,270.15 L376.70,271.77 L377.44,271.99 L378.18,271.39 L378.92,271.44 L379.66,271.82 L380.40,272.02 L381.14,272.14 L381.88,272.97 L382.62,274.29 L383.36,274.59 L384.10,274.97 L384.84,275.65 L385.58,275.26 L386.32,275.09 L387.06,275.97 L387.80,276.91 L388.54,277.72 L389.28,278.40 L390.02,278.69 L390.76,278.86 L391.50,279.06 L392.25,279.22 L392.99,278.94 L393.73,279.16 L394.47,279.90 L395.21,280.41 L395.95,281.68 L396.69,282.27 L397.43,281.42 L398.17,280.99 L398.91,282.20 L399.65,283.70 L400.39,284.26 L401.13,284.33 L401.87,282.71 L402.61,283.97" stroke="#0072BD"/><path d="M160.50,333.67 L161.24,323.07 L161.98,312.07 L162.72,301.11 L163.46,291.74 L164.20,282.58 L164.94,273.12 L165.68,264.31 L166.42,258.96 L167.16,254.98 L167.90,250.76 L168.64,246.16 L169.38,240.93 L170.13,235.09 L170.87,227.96 L171.61,219.82 L172.35,212.58 L173.09,210.15 L173.83,208.19 L174.57,204.61 L175.31,197.72 L176.05,192.17 L176.79,187.87 L177.53,183.60 L178.27,179.96 L179.01,177.45 L179.75,175.63 L180.49,174.47 L181.23,172.82 L181.97,171.00 L182.71,169.28 L183.45,168.46 L184.19,167.97 L184.93,166.02 L185.67,163.19 L186.41,161.45 L187.15,160.41 L187.89,158.87 L188.64,157.12 L189.38,155.55 L190.12,154.17 L190.86,153.51 L191.60,154.23 L192.34,154.37 L193.08,154.91 L193.82,156.10 L194.56,156.82 L195.30,157.56 L196.04,158.85 L196.78,159.45 L197.52,159.80 L198.26,160.21 L199.00,161.07 L199.74,161.78 L200.48,162.50 L201.22,164.21 L201.96,166.58 L202.70,167.66 L203.44,167.84 L204.18,169.40 L204.92,171.41 L205.66,173.27 L206.40,175.00 L207.15,176.80 L207.89,179.03 L208.63,181.52 L209.37,183.66 L210.11,186.61 L210.85,189.66 L211.59,191.94 L212.33,194.86 L213.07,199.60 L213.81,203.49 L214.55,204.92 L215.29,207.38 L216.03,212.23 L216.77,216.22 L217.51,219.00 L218.25,222.22 L218.99,225.41 L219.73,228.03 L220.47,230.79 L221.21,233.90 L221.95,236.94 L222.69,240.22 L223.43,243.52 L224.17,246.53 L224.91,249.42 L225.66,252.32 L226.40,255.61 L227.14,258.15 L227.88,260.09 L228.62,263.13 L229.36,266.29 L230.10,269.15 L230.84,271.97 L231.58,274.40 L232.32,276.49 L233.06,279.25 L233.80,281.97 L234.54,284.09 L235.28,286.88 L236.02,289.91 L236.76,292.24 L237.50,293.67 L238.24,295.28 L238.98,297.99 L239.72,300.74 L240.46,303.14 L241.20,304.45 L241.94,305.91 L242.68,308.61 L243.42,311.12 L244.17,312.85 L244.91,314.06 L245.65,315.04 L246.39,316.26 L247.13,318.53 L247.87,320.77 L248.61,322.12 L249.35,323.12 L250.09,324.25 L250.83,325.42 L251.57,327.06 L252.31,328.53 L253.05,329.35 L253.79,330.93 L254.53,332.48 L255.27,332.80 L256.01,333.50 L256.75,335.04 L257.49,336.67 L258.23,337.25 L258.97,336.94 L259.71,338.47 L260.45,340.90 L261.19,341.90 L261.93,342.67 L262.68,343.75 L263.42,344.32 L264.16,344.15 L264.90,343.59 L265.64,344.40 L266.38,345.85 L267.12,345.93 L267.86,345.46 L268.60,344.81 L269.34,344.67 L270.08,345.34 L270.82,345.51 L271.56,344.51 L272.30,344.01 L273.04,344.66 L273.78,344.41 L274.52,343.81 L275.26,343.49 L276.00,342.67 L276.74,341.78 L277.48,342.00 L278.22,341.90 L278.96,341.31 L279.70,341.32 L280.44,340.94 L281.19,340.30 L281.93,339.84 L282.67,339.50 L283.41,338.73 L284.15,337.53 L284.89,336.17 L285.63,334.83 L286.37,333.37 L287.11,331.92 L287.85,330.93 L288.59,330.03 L289.33,328.99 L290.07,328.03 L290.81,326.75 L291.55,325.37 L292.29,324.63 L293.03,323.50 L293.77,321.73 L294.51,320.57 L295.25,320.38 L295.99,319.76 L296.73,317.87 L297.47,316.69 L298.21,315.92 L298.95,314.40 L299.70,313.53 L300.44,312.64 L301.18,310.97 L301.92,309.49 L302.66,308.56 L303.40,307.03 L304.14,304.84 L304.88,304.00 L305.62,303.10 L306.36,300.96 L307.10,299.26 L307.84,297.98 L308.58,296.73 L309.32,295.33 L310.06,294.01 L310.80,292.73 L311.54,291.19 L312.28,290.19 L313.02,289.57 L313.76,288.51 L314.50,287.69 L315.24,287.58 L315.98,287.16 L316.72,286.63 L317.46,286.52 L318.21,285.22 L318.95,283.55 L319.69,282.38 L320.43,280.77 L321.17,277.91 L321.91,275.33 L322.65,273.40 L323.39,271.70 L324.13,273.12 L324.87,274.14 L325.61,272.61 L326.35,272.89 L327.09,273.21 L327.83,272.18 L328.57,272.12 L329.31,272.07 L330.05,270.59 L330.79,269.26 L331.53,268.69 L332.27,267.57 L333.01,266.31 L333.75,265.66 L334.49,264.74 L335.23,264.11 L335.97,264.21 L336.72,263.89 L337.46,263.13 L338.20,262.15 L338.94,261.04 L339.68,260.32 L340.42,259.84 L341.16,259.40 L341.90,259.19 L342.64,258.74 L343.38,257.34 L344.12,257.07 L344.86,258.46 L345.60,258.83 L346.34,257.47 L347.08,256.30 L347.82,255.69 L348.56,256.46 L349.30,257.05 L350.04,256.77 L350.78,256.81 L351.52,256.68 L352.26,256.58 L353.00,256.92 L353.74,257.18 L354.48,258.18 L355.23,259.03 L355.97,259.22 L356.71,259.77 L357.45,260.48 L358.19,260.99 L358.93,260.97 L359.67,260.43 L360.41,260.83 L361.15,261.89 L361.89,262.25 L362.63,262.14 L363.37,262.27 L364.11,262.79 L364.85,262.98 L365.59,263.08 L366.33,263.11 L367.07,262.79 L367.81,263.03 L368.55,263.91 L369.29,264.92 L370.03,265.69 L370.77,265.75 L371.51,265.88 L372.25,265.91 L372.99,266.66 L373.74,268.22 L374.48,268.79 L375.22,269.00 L375.96,269.59 L376.70,270.57 L377.44,271.06 L378.18,270.92 L378.92,271.23 L379.66,272.23 L380.40,273.36 L381.14,273.56 L381.88,273.44 L382.62,274.48 L383.36,275.44 L384.10,275.12 L384.84,274.93 L385.58,275.49 L386.32,276.08 L387.06,276.66 L387.80,277.30 L388.54,277.67 L389.28,277.97 L390.02,278.02 L390.76,278.49 L391.50,279.65 L392.25,280.36 L392.99,280.55 L393.73,280.77 L394.47,281.99 L395.21,283.45 L395.95,283.59 L396.69,283.06 L397.43,283.72 L398.17,285.56 L398.91,286.07 L399.65,286.49 L400.39,288.41 L401.13,289.60 L401.87,286.94 L402.61,287.59" stroke="#D95319"/></g><path d="M216.03,362.35V359.75M216.03,145.5V148.10M308.58,362.35V359.75M308.58,145.5V148.10M401.13,362.35V359.75M401.13,145.5V148.10M160.6,362.80H163.20M401.35,362.80H398.75M160.6,323.90H163.20M401.35,323.90H398.75M160.6,285.00H163.20M401.35,285.00H398.75M160.6,246.10H163.20M401.35,246.10H398.75M160.6,207.20H163.20M401.35,207.20H398.75M160.6,168.30H163.20M401.35,168.30H398.75" stroke="#262626" stroke-width="1.1" fill="none"/><rect x="160.6" y="145.5" width="240.75" height="216.85" fill="none" stroke="#222" stroke-width="1.2"/><g font-family="'Liberation Sans', Arial, sans-serif" font-size="13" fill="#1a1a1a"><text x="216.03" y="380.6" text-anchor="middle">5</text><text x="308.58" y="380.6" text-anchor="middle">10</text><text x="401.13" y="380.6" text-anchor="middle">15</text><text x="155.4" y="368.70" text-anchor="end">-0.1</text><text x="155.4" y="329.80" text-anchor="end">-0.05</text><text x="155.4" y="290.90" text-anchor="end">0</text><text x="155.4" y="252.00" text-anchor="end">0.05</text><text x="155.4" y="213.10" text-anchor="end">0.1</text><text x="155.4" y="174.20" text-anchor="end">0.15</text></g><path d="M93.0,15.5L161.0,145.5" stroke="#111" stroke-width="1.4" stroke-dasharray="1.5 3.0" fill="none"/><path d="M301.45,90.9L401.4,360.3" stroke="#111" stroke-width="1.4" stroke-dasharray="1.5 3.0" fill="none"/></g></svg>
</body></html>
